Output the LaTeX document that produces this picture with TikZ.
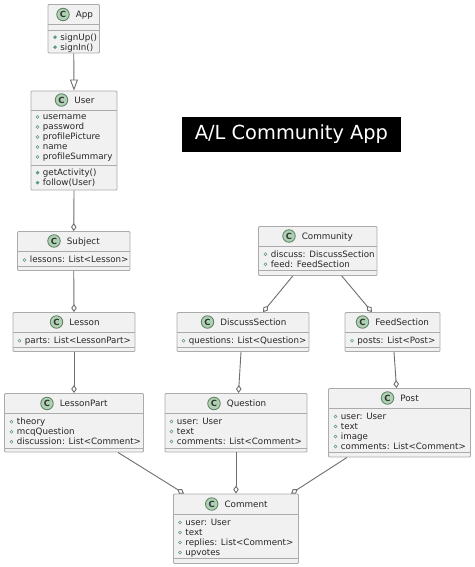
\documentclass[tikz,border=0pt]{standalone}
\usepackage{xcolor}
\usepackage{fontspec}
\setmainfont{DejaVu Sans}
\usetikzlibrary{positioning,arrows.meta}
\definecolor{classfill}{HTML}{F1F1F1}
\definecolor{classline}{HTML}{ABABAB}
\definecolor{connline}{HTML}{6E6E6E}
\definecolor{markfill}{HTML}{ADD1B2}
\definecolor{markline}{HTML}{5F7F64}
\definecolor{fieldcol}{HTML}{5E9A80}
\newcommand{\fieldmark}{\makebox[7.2pt][l]{\tikz[baseline=-2.9pt]\draw[fieldcol, line width=0.6pt] (0,0) circle (1.5pt);}}
\newcommand{\methodmark}{\makebox[7.2pt][l]{\tikz[baseline=-2.9pt]\fill[fieldcol] (0,0) circle (1.9pt);}}

\begin{document}
\begin{tikzpicture}[
    x=1pt, y=-1pt,
    classbox/.style={draw=classline, line width=0.9pt, rounded corners=1pt, fill=classfill, inner sep=0pt},
    classmark/.style={circle, draw=markline, line width=0.8pt, fill=markfill, minimum size=12.5pt, inner sep=0pt, font=\fontsize{8.5}{8.5}\selectfont\bfseries, text=black!80},
    classname/.style={inner sep=0pt, text height=7.5pt, text depth=1pt, font=\fontsize{8.8}{10}\selectfont, text=black!85},
    members/.style={anchor=north west, inner sep=0pt, yshift=-0.8pt, align=left, font=\fontsize{8.7}{10}\selectfont, text=black!85},
    sep/.style={draw=classline, line width=0.9pt},
    conn/.style={draw=connline, line width=0.9pt},
    aggr/.style={conn, -{Diamond[open, fill=white, length=8pt, width=5.5pt]}},
    inherit/.style={conn, -{Triangle[open, fill=white, length=11pt, width=8pt]}},
    node distance=6pt
]
\useasboundingbox (0,0) rectangle (474,567);
\fill[white] (0,0) rectangle (474,567);

% Title
\node[fill=black, text=white, minimum width=219pt, minimum height=34pt, inner sep=0pt, font=\fontsize{19.4}{22}\selectfont] (title) at (291.5, 134.5) {A/L Community App};

% App
\node[classbox, minimum width=51.5pt, minimum height=48.5pt] (app) at (73.75, 28.75) {};
\node[classmark] (appmark) at (63, 14.5) {C};
\node[classname, right=of appmark] (appname) {App};
\node[members] (appmethods) at (53, 32.5) {\methodmark signUp()\\\methodmark signIn()};
\draw[sep] (app.west |- 0,24) -- (app.east |- 0,24);
\draw[sep] (app.west |- 0,30) -- (app.east |- 0,30);

% User
\node[classbox, minimum width=86pt, minimum height=99pt] (user) at (74, 140.5) {};
\node[classmark] (usermark) at (61.5, 100) {C};
\node[classname, right=of usermark] (username) {User};
\node[members] (userattrs) at (35.5, 114) {\fieldmark username\\\fieldmark password\\\fieldmark profilePicture\\\fieldmark name\\\fieldmark profileSummary};
\node[members] (usermethods) at (35.5, 168) {\methodmark getActivity()\\\methodmark follow(User)};
\draw[sep] (user.west |- 0,110) -- (user.east |- 0,110);
\draw[sep] (user.west |- 0,165) -- (user.east |- 0,165);

% Subject
\node[classbox, minimum width=112.5pt, minimum height=39pt] (subject) at (73.75, 251) {};
\node[classmark] (subjectmark) at (54, 241) {C};
\node[classname, right=of subjectmark] (subjectname) {Subject};
\node[members] (subjectattrs) at (22.5, 255.3) {\fieldmark lessons: List<Lesson>};
\draw[sep] (subject.west |- 0,251) -- (subject.east |- 0,251);
\draw[sep] (subject.west |- 0,266) -- (subject.east |- 0,266);

% Lesson
\node[classbox, minimum width=122pt, minimum height=39pt] (lesson) at (74, 332) {};
\node[classmark] (lessonmark) at (56.5, 322) {C};
\node[classname, right=of lessonmark] (lessonname) {Lesson};
\node[members] (lessonattrs) at (17.5, 336) {\fieldmark parts: List<LessonPart>};
\draw[sep] (lesson.west |- 0,332) -- (lesson.east |- 0,332);
\draw[sep] (lesson.west |- 0,347) -- (lesson.east |- 0,347);

% LessonPart
\node[classbox, minimum width=139pt, minimum height=58.5pt] (lessonpart) at (74, 422.75) {};
\node[classmark] (lessonpartmark) at (47, 403.5) {C};
\node[classname, right=of lessonpartmark] (lessonpartname) {LessonPart};
\node[members] (lessonpartattrs) at (9.5, 417) {\fieldmark theory\\\fieldmark mcqQuestion\\\fieldmark discussion: List<Comment>};
\draw[sep] (lessonpart.west |- 0,413.5) -- (lessonpart.east |- 0,413.5);
\draw[sep] (lessonpart.west |- 0,448) -- (lessonpart.east |- 0,448);

% Community
\node[classbox, minimum width=118.5pt, minimum height=49pt] (community) at (317.75, 251) {};
\node[classmark] (communitymark) at (289, 236) {C};
\node[classname, right=of communitymark] (communityname) {Community};
\node[members] (communityattrs) at (263.5, 249.5) {\fieldmark discuss: DiscussSection\\\fieldmark feed: FeedSection};
\draw[sep] (community.west |- 0,246) -- (community.east |- 0,246);
\draw[sep] (community.west |- 0,270.5) -- (community.east |- 0,270.5);

% DiscussSection
\node[classbox, minimum width=132pt, minimum height=39pt] (discuss) at (243, 332) {};
\node[classmark] (discussmark) at (207.5, 322) {C};
\node[classname, right=of discussmark] (discussname) {DiscussSection};
\node[members] (discussattrs) at (181.5, 336) {\fieldmark questions: List<Question>};
\draw[sep] (discuss.west |- 0,332) -- (discuss.east |- 0,332);
\draw[sep] (discuss.west |- 0,347) -- (discuss.east |- 0,347);

% FeedSection
\node[classbox, minimum width=95pt, minimum height=39pt] (feed) at (392.5, 332) {};
\node[classmark] (feedmark) at (362.5, 322) {C};
\node[classname, right=of feedmark] (feedname) {FeedSection};
\node[members] (feedattrs) at (350, 336) {\fieldmark posts: List<Post>};
\draw[sep] (feed.west |- 0,332) -- (feed.east |- 0,332);
\draw[sep] (feed.west |- 0,347) -- (feed.east |- 0,347);

% Question
\node[classbox, minimum width=142pt, minimum height=58.5pt] (question) at (236, 422.75) {};
\node[classmark] (questionmark) at (214, 403.5) {C};
\node[classname, right=of questionmark] (questionname) {Question};
\node[members] (questionattrs) at (169.5, 417) {\fieldmark user: User\\\fieldmark text\\\fieldmark comments: List<Comment>};
\draw[sep] (question.west |- 0,413.5) -- (question.east |- 0,413.5);
\draw[sep] (question.west |- 0,448) -- (question.east |- 0,448);

% Post
\node[classbox, minimum width=142pt, minimum height=68.5pt] (post) at (399.5, 422.75) {};
\node[classmark] (postmark) at (387.5, 398) {C};
\node[classname, right=of postmark] (postname) {Post};
\node[members] (postattrs) at (333.5, 412) {\fieldmark user: User\\\fieldmark text\\\fieldmark image\\\fieldmark comments: List<Comment>};
\draw[sep] (post.west |- 0,408) -- (post.east |- 0,408);
\draw[sep] (post.west |- 0,452) -- (post.east |- 0,452);

% Comment
\node[classbox, minimum width=125pt, minimum height=69.5pt] (comment) at (236, 528.75) {};
\node[classmark] (commentmark) at (211.7, 504) {C};
\node[classname, right=of commentmark] (commentname) {Comment};
\node[members] (commentattrs) at (178, 518) {\fieldmark user: User\\\fieldmark text\\\fieldmark replies: List<Comment>\\\fieldmark upvotes};
\draw[sep] (comment.west |- 0,514) -- (comment.east |- 0,514);
\draw[sep] (comment.west |- 0,558) -- (comment.east |- 0,558);

% Connectors
\draw[inherit] (app.south) -- (user.north);
\draw[aggr] (user.south) -- (subject.north);
\draw[aggr] (subject.south) -- (lesson.north);
\draw[aggr] (lesson.south) -- (lessonpart.north);
\draw[aggr] ([xshift=-25pt]community.south) -- ([xshift=20pt]discuss.north);
\draw[aggr] ([xshift=24pt]community.south) -- ([xshift=-20.5pt]feed.north);
\draw[aggr] ([xshift=-2pt]discuss.south) -- ([xshift=2.5pt]question.north);
\draw[aggr] ([xshift=1.5pt]feed.south) -- ([xshift=-3pt]post.north);
\draw[aggr] ([xshift=44pt]lessonpart.south) -- ([xshift=-52pt]comment.north);
\draw[aggr] (question.south) -- (comment.north);
\draw[aggr] ([xshift=-52.5pt]post.south) -- ([xshift=55pt]comment.north);
\end{tikzpicture}
\end{document}
